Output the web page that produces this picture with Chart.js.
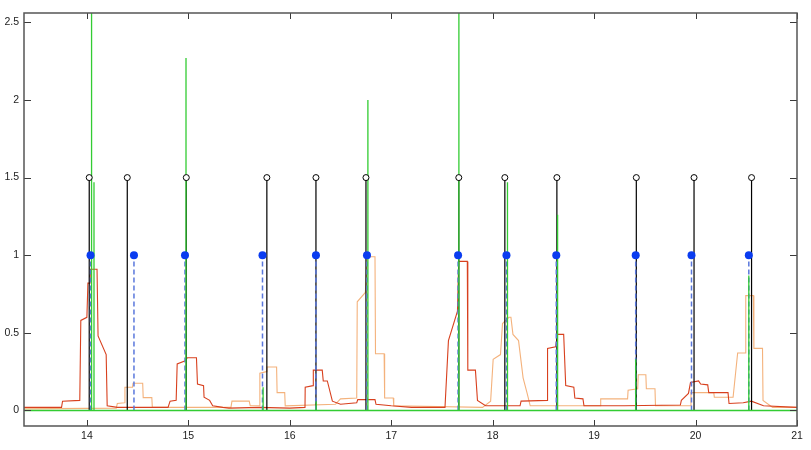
<!DOCTYPE html>
<html>
<head>
<meta charset="utf-8">
<script src="https://cdn.jsdelivr.net/npm/chart.js@4.4.1/dist/chart.umd.min.js"></script>
<style>
  html, body { margin: 0; padding: 0; background: #fff; }
  #wrap { width: 811px; height: 450px; }
</style>
</head>
<body>
<div id="wrap"><canvas id="chart0"></canvas></div>
<script>
/** Axis ranges and tick labels **/
const xMin = 13.38, xMax = 21, yMin = -0.1, yMax = 2.56;
const xTicks = [14, 15, 16, 17, 18, 19, 20, 21];
const yTicks = [0, 0.5, 1, 1.5, 2, 2.5];

/** Red signal **/
const redX = [13.38, 13.75, 13.76, 13.93, 13.94, 14.0, 14.01, 14.03, 14.035, 14.10, 14.11, 14.19, 14.20, 14.30,
  14.80, 14.82, 14.88, 14.89, 14.97, 14.99, 15.08, 15.09, 15.15, 15.155, 15.21, 15.24, 15.34, 15.40, 15.70,
  16.0, 16.15, 16.152, 16.23, 16.232, 16.32, 16.33, 16.37, 16.42, 16.50, 16.66, 16.67, 16.84, 16.85, 17.0,
  17.2, 17.53, 17.564, 17.653, 17.665, 17.75, 17.755, 17.83, 17.85, 17.93, 18.27, 18.28, 18.54, 18.541,
  18.62, 18.64, 18.70, 18.72, 18.80, 18.81, 18.89, 18.90, 19.3, 19.85, 19.86, 19.93, 19.95, 20.03, 20.05,
  20.12, 20.13, 20.32, 20.33, 20.47, 20.55, 20.67, 21.0];
const redY = [0.02, 0.02, 0.06, 0.065, 0.58, 0.60, 0.82, 0.82, 0.91, 0.91, 0.48, 0.36, 0.03, 0.02,
  0.02, 0.06, 0.065, 0.30, 0.32, 0.34, 0.34, 0.17, 0.16, 0.085, 0.065, 0.03, 0.02, 0.015, 0.02,
  0.015, 0.02, 0.15, 0.16, 0.26, 0.26, 0.19, 0.19, 0.06, 0.04, 0.05, 0.07, 0.07, 0.04, 0.03,
  0.02, 0.02, 0.45, 0.64, 0.96, 0.96, 0.26, 0.26, 0.065, 0.03, 0.03, 0.06, 0.065, 0.40,
  0.41, 0.49, 0.49, 0.16, 0.15, 0.08, 0.075, 0.03, 0.03, 0.035, 0.065, 0.11, 0.18, 0.19, 0.17,
  0.165, 0.115, 0.115, 0.045, 0.05, 0.06, 0.03, 0.02];

/** Orange signal **/
const orangeX = [13.38, 14.29, 14.30, 14.37, 14.375, 14.45, 14.455, 14.55, 14.555, 14.64, 14.645, 15.42,
  15.43, 15.60, 15.61, 15.70, 15.705, 15.77, 15.775, 15.87, 15.875, 15.95, 15.955, 16.45, 16.50, 16.66,
  16.665, 16.745, 16.765, 16.84, 16.845, 16.93, 16.935, 17.02, 17.025, 17.9, 17.98, 18.005, 18.077,
  18.097, 18.16, 18.18, 18.20, 18.255, 18.30, 18.34, 18.37, 19.06, 19.065, 19.33, 19.335, 19.43,
  19.435, 19.51, 19.515, 19.60, 19.605, 19.95, 19.955, 20.18, 20.185, 20.37, 20.415, 20.49, 20.495,
  20.57, 20.575, 20.66, 20.665, 20.76, 21.0];
const orangeY = [0.01, 0.015, 0.045, 0.05, 0.15, 0.15, 0.175, 0.175, 0.083, 0.083, 0.02, 0.02,
  0.06, 0.06, 0.03, 0.03, 0.24, 0.25, 0.28, 0.28, 0.115, 0.115, 0.03, 0.04, 0.075, 0.08,
  0.70, 0.76, 0.99, 0.99, 0.365, 0.365, 0.08, 0.08, 0.03, 0.02, 0.06, 0.33, 0.36,
  0.56, 0.60, 0.60, 0.49, 0.45, 0.21, 0.11, 0.03, 0.03, 0.075, 0.075, 0.13, 0.14,
  0.23, 0.23, 0.14, 0.14, 0.03, 0.03, 0.115, 0.115, 0.085, 0.085, 0.37, 0.37, 0.74,
  0.74, 0.40, 0.40, 0.065, 0.02, 0.02];

/** Green spikes **/
const greenX = [14.046, 14.07, 14.977, 15.737, 16.26, 16.77, 17.667, 18.146, 18.64, 19.41, 20.525];
const greenH = [2.7, 1.47, 2.27, 0.15, 0.06, 2.0, 2.7, 1.47, 1.26, 0.33, 0.87];

/** Stems **/
const blackX = [14.023, 14.398, 14.980, 15.774, 16.258, 16.751, 17.666, 18.120, 18.633, 19.416, 19.985, 20.552];
const blackTop = 1.5;
const blueX = [14.036, 14.464, 14.967, 15.731, 16.258, 16.761, 17.659, 18.136, 18.627, 19.410, 19.960, 20.525];
const blueTop = 1;

function pairs(xs, ys) {
  return xs.map((x, i) => ({x: x, y: ys[i]}));
}
function stems(xs, tops) {
  var out = [];
  xs.forEach(function(x, i) {
    var t = Array.isArray(tops) ? tops[i] : tops;
    out.push({x: x, y: 0}, {x: x, y: t}, {x: x, y: null});
  });
  return out;
}
function heads(xs, top) {
  return xs.map(x => ({x: x, y: top}));
}

/** inward MATLAB-like ticks and box **/
const boxPlugin = {
  id: 'boxTicks',
  afterDatasetsDraw: function(chart) {
    var ctx = chart.ctx;
    var a = chart.chartArea;
    var sx = chart.scales.x, sy = chart.scales.y;
    ctx.save();
    ctx.strokeStyle = '#3a3a3a';
    ctx.lineWidth = 1;
    ctx.beginPath();
    xTicks.forEach(function(v) {
      var px = Math.round(sx.getPixelForValue(v)) + 0.5;
      ctx.moveTo(px, a.bottom); ctx.lineTo(px, a.bottom - 6);
      ctx.moveTo(px, a.top); ctx.lineTo(px, a.top + 6);
    });
    yTicks.forEach(function(v) {
      var py = Math.round(sy.getPixelForValue(v)) + 0.5;
      ctx.moveTo(a.left, py); ctx.lineTo(a.left + 7, py);
      ctx.moveTo(a.right, py); ctx.lineTo(a.right - 7, py);
    });
    ctx.stroke();
    ctx.lineWidth = 1.5;
    ctx.strokeStyle = '#555';
    ctx.strokeRect(a.left, a.top, a.right - a.left, a.bottom - a.top);
    ctx.restore();
  }
};

var ctx = document.getElementById('chart0');
var chart = new Chart(ctx, {
  type: 'scatter',
  data: {
    datasets: [
      { data: heads(blueX, blueTop), pointRadius: 4, pointBackgroundColor: '#0a3cf0',
        pointBorderColor: '#0a3cf0', pointBorderWidth: 0, showLine: false },
      { data: heads(blackX, blackTop), pointRadius: 3, pointBackgroundColor: '#ffffff',
        pointBorderColor: '#000000', pointBorderWidth: 1, showLine: false },
      { data: stems(greenX, greenH), showLine: true, pointRadius: 0, borderColor: '#33cc33',
        borderWidth: 1.3, spanGaps: false },
      { data: pairs([xMin, xMax], [0, 0]), showLine: true, pointRadius: 0, borderColor: '#33cc33',
        borderWidth: 1.5 },
      { data: stems(blueX, blueTop), showLine: true, pointRadius: 0, borderColor: '#5a78dc',
        borderWidth: 1.5, borderDash: [5, 3], spanGaps: false },
      { data: stems(blackX, blackTop), showLine: true, pointRadius: 0, borderColor: '#000000',
        borderWidth: 1.2, spanGaps: false },
      { data: pairs(redX, redY), showLine: true, pointRadius: 0, borderColor: '#d8401e',
        borderWidth: 1.1, tension: 0 },
      { data: pairs(orangeX, orangeY), showLine: true, pointRadius: 0, borderColor: '#f4b27c',
        borderWidth: 1.1, tension: 0 }
    ]
  },
  options: {
    responsive: true,
    maintainAspectRatio: false,
    animation: false,
    events: [],
    layout: { padding: { top: 13, right: 14, left: 0, bottom: 0 } },
    plugins: { legend: { display: false }, tooltip: { enabled: false } },
    scales: {
      x: {
        type: 'linear', position: 'bottom', min: xMin, max: xMax,
        grid: { display: false, drawTicks: false }, border: { display: false },
        afterBuildTicks: function(scale) { scale.ticks = xTicks.map(v => ({value: v})); },
        afterFit: function(scale) { scale.height = 24; },
        ticks: { color: '#222', padding: 4, autoSkip: false, maxRotation: 0,
          font: { family: 'Liberation Sans', size: 10.5 },
          callback: function(v) { return String(v); } }
      },
      y: {
        type: 'linear', position: 'left', min: yMin, max: yMax,
        grid: { display: false, drawTicks: false }, border: { display: false },
        afterBuildTicks: function(scale) { scale.ticks = yTicks.map(v => ({value: v})); },
        afterFit: function(scale) { scale.width = 24; },
        ticks: { color: '#222', padding: 5, autoSkip: false,
          font: { family: 'Liberation Sans', size: 10.5 },
          callback: function(v) { return String(v); } }
      }
    }
  },
  plugins: [boxPlugin]
});
</script>
</body>
</html>
